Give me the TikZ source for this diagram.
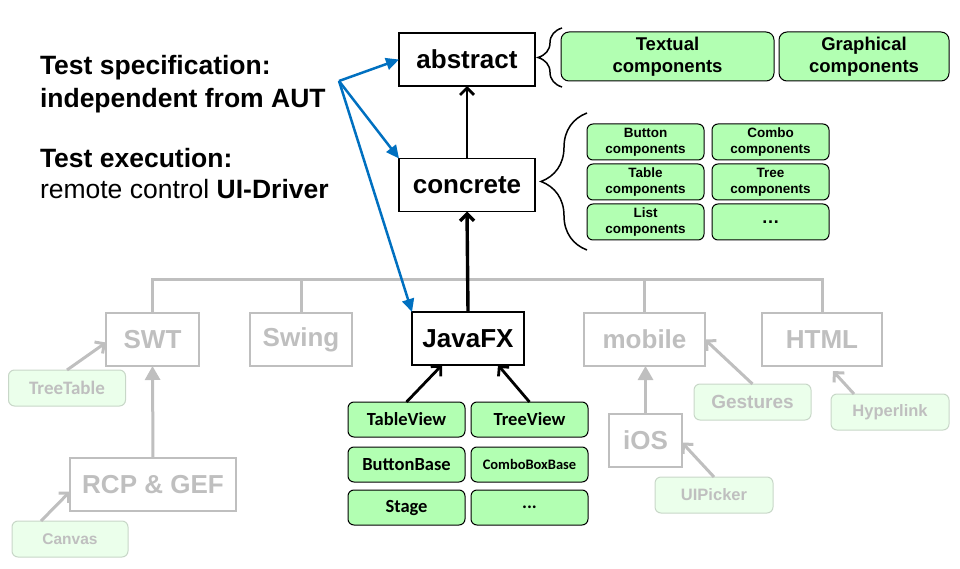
\documentclass[tikz,border=0pt]{standalone}
\usepackage{fontspec}
\setmainfont{Liberation Sans}
\newfontfamily\calibri{Carlito}
\usetikzlibrary{arrows.meta}
\usetikzlibrary{decorations.pathreplacing}
\usetikzlibrary{positioning}
\newcommand{\fsz}[2]{\fontsize{#1}{#2}\selectfont}

\begin{document}
\begin{tikzpicture}[x=1pt, y=-1pt, every node/.style={inner sep=0, outer sep=0},
    level/.style={draw, line width=1.3pt, fill=white, minimum height=53, font=\bfseries\fsz{26}{30}},
    faded/.style={draw=gline, line width=1.3pt, fill=white, text=gtext, minimum height=53, font=\bfseries\fsz{26}{30}},
    comp/.style={draw, fill=cgreen, rounded corners=6pt, line width=1pt, align=center},
    fadedcomp/.style={draw=gbox, fill=fgreen, text=gtext, rounded corners=6pt, line width=1pt, minimum width=117, minimum height=36},
    blue arrow/.style={draw=myblue, line width=2.5pt, -{Triangle[length=13pt,width=12pt]}},
    black arrow/.style={line width=2.8pt, -{Straight Barb[length=7pt,width=14pt]}},
    gray arrow/.style={draw=gline, line width=3pt, -{Straight Barb[length=7pt,width=14pt]}},
    gray tip/.style={draw=gline, line width=3pt, -{Triangle[length=14pt,width=15pt]}}]
        % Colors
        \definecolor{myblue}{RGB}{0,112,192}
        \definecolor{cgreen}{RGB}{178,255,178}
        \definecolor{fgreen}{RGB}{235,255,235}
        \definecolor{gline}{RGB}{191,191,191}
        \definecolor{gtext}{RGB}{191,191,191}
        \definecolor{gbox}{RGB}{200,215,200}

        \useasboundingbox (0,0) rectangle (960,569);

        % Left texts
        \node[anchor=north west, align=left, font=\bfseries\fsz{26.5}{33}] (spec_text) at (40,55) {Test specification:\\independent from AUT};
        \node[anchor=north west, align=left, font=\fsz{26.5}{31}] (exec_text) at (40,148) {\textbf{Test execution:}\\remote control \textbf{UI-Driver}};
        \coordinate (spec) at (339,81);

        % Levels
        \node[level, minimum width=136] (abstract) at (467,59.5) {abstract};
        \node[level, minimum width=136] (concrete) at (467,185) {concrete};
        \node[level, minimum width=112] (javafx) at (468,338.5) {JavaFX};

        % Toolkits
        \node[faded, minimum width=93] (swt) at (152.5,339.5) {SWT};
        \node[faded, minimum width=102] (swing) at (301,339.5) {Swing};
        \node[faded, minimum width=121] (mobile) at (644.5,339.5) {mobile};
        \node[faded, minimum width=120] (html) at (822,339.5) {HTML};
        \node[faded, minimum width=166] (rcp) at (153,484.5) {RCP \& GEF};
        \node[faded, minimum width=73] (ios) at (645.5,440.5) {iOS};

        \coordinate (bar) at (0,279);
        \draw[gline, line width=3pt] (swt.north) |- (html.north |- bar) -- (html.north);
        \draw[gline, line width=3pt] (swing.north) -- (swing.north |- bar);
        \draw[gline, line width=3pt] (mobile.north) -- (mobile.north |- bar);

        % Faded components
        \node[fadedcomp, font=\calibri\bfseries\fsz{19}{22}] (treetable) at (67,388) {TreeTable};
        \node[fadedcomp, minimum width=116, font=\bfseries\fsz{15.5}{18}] (canvas) at (70,539) {Canvas};
        \node[fadedcomp, font=\bfseries\fsz{19}{22}] (gestures) at (752.5,402) {Gestures};
        \node[fadedcomp, minimum width=118, font=\bfseries\fsz{16.5}{20}] (hyperlink) at (890,412) {Hyperlink};
        \node[fadedcomp, minimum width=118, font=\bfseries\fsz{16.5}{20}] (uipicker) at (714,495) {UIPicker};

        \draw[gray arrow] (treetable.north) -- ([yshift=-3pt]swt.west);
        \draw[gray tip] (rcp.north) -- (swt.south);
        \draw[gray arrow] ([xshift=-29pt]canvas.north) -- ([yshift=-7pt]rcp.west);
        \draw[gray tip] (ios.north) -- (ios.north |- mobile.south);
        \draw[gray arrow] (gestures.north) -- (mobile.east);
        \draw[gray arrow] ([xshift=-36pt]hyperlink.north) -- ([xshift=11pt,yshift=-5pt]html.south);
        \draw[gray arrow] (uipicker.north) -- ([yshift=-2pt]ios.east);

        % Abstract components
        \node[comp, minimum width=213, minimum height=49, rounded corners=8pt, font=\bfseries\fsz{18.5}{22}] (textual) at (667.5,56.5) {Textual\\components};
        \node[comp, minimum width=170, minimum height=49, rounded corners=8pt, font=\bfseries\fsz{18.5}{22}, right=5pt of textual] (graphical) {Graphical\\components};
        \draw[decorate, decoration={brace, amplitude=24pt}, line width=1.5pt] (562,87) -- (562,28);

        % Concrete components
        \begin{scope}[every node/.append style={comp, minimum width=117, minimum height=36, font=\bfseries\fsz{13.5}{16}}]
            \node (button) at (645.5,142) {Button\\components};
            \node[right=8pt of button] (combo) {Combo\\components};
            \node[below=4pt of button] (table) {Table\\components};
            \node[right=8pt of table] (tree) {Tree\\components};
            \node[below=4pt of table] (list) {List\\components};
            \node[right=8pt of list] (more) {\fsz{18}{20}\dots};
        \end{scope}
        \draw[decorate, decoration={brace, amplitude=46pt}, line width=1.5pt] (587,250) -- (587,113);

        % JavaFX components
        \begin{scope}[every node/.append style={comp, minimum width=117, minimum height=35, font=\calibri\bfseries\fsz{18.5}{20}}]
            \node (tableview) at (406.5,419.5) {TableView};
            \node[right=6pt of tableview] (treeview) {TreeView};
            \node[below=10pt of tableview] (buttonbase) {ButtonBase};
            \node[right=6pt of buttonbase, font=\calibri\bfseries\fsz{14.5}{16}] (comboboxbase) {ComboBoxBase};
            \node[below=8pt of buttonbase] (stage) {Stage};
            \node[right=6pt of stage] (jfxmore) {...};
        \end{scope}

        % Black arrows
        \draw[black arrow] (concrete.north) -- (abstract.south);
        \draw[black arrow, line width=3.4pt] (javafx.north) -- (concrete.south);
        \draw[black arrow] (tableview.north) -- ([xshift=-26pt]javafx.south);
        \draw[black arrow] (treeview.north) -- ([xshift=30pt]javafx.south);

        % Blue arrows
        \draw[blue arrow] (spec) -- (abstract.west);
        \draw[blue arrow] (spec) -- (concrete.north west);
        \draw[blue arrow] (spec) -- (javafx.north west);
      \end{tikzpicture}
\end{document}
